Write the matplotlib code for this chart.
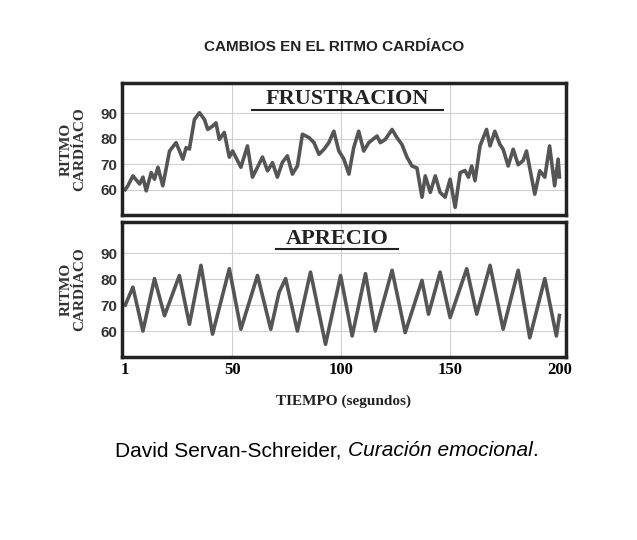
import matplotlib
matplotlib.use("Agg")
import matplotlib.pyplot as plt
from matplotlib.lines import Line2D

frus_t = [1,2.2,4.5,7.6,9.1,10.6,12.9,14.4,16,18.2,21.3,24.3,27.4,28.9,30.4,32.7,35,37.3,38.8,41,42.6,44.1,46.4,48.7,50.2,54,57,59.3,61.6,63.9,66.2,68.5,70.7,73,75.3,77.6,79.9,82.2,85.2,87.5,89.8,92.1,94.3,96.6,98.9,101.2,103.5,105.7,108,110.3,112.6,116.4,117.9,120.2,123.3,125.5,127.8,130.1,132.4,134.7,137,138.5,140.8,143.1,145.3,147.6,149.9,152.2,154.5,156.7,158.3,159.8,161.3,163.6,166.6,168.2,170.4,172.7,174.2,176.5,178.8,181.1,183.4,184.9,188.7,191,193.3,195.5,197.8,199.4,200]
frus_v = [60,61.5,65.4,62.2,64.9,59.5,66.7,64.1,68.8,61.5,75.2,78.5,72,76.5,76,87.6,90.3,87.6,83.7,85,86.3,79.8,82.5,72.8,75.2,68.8,77.2,64.9,68.8,72.8,67.4,70.6,64.9,70.7,73.3,66.1,69.3,81.8,80.5,78.5,73.9,75.9,78.5,83,75.2,72,66.1,76.5,83,75.2,78.5,81.1,78.5,79.8,83.7,80.5,77.8,72.8,69.3,68.5,57,65.4,58.9,65.4,58.9,57,64.1,53,66.7,67.5,64.9,69.3,63.5,77.2,83.7,77.2,83,77.8,75.9,69.3,75.9,69.8,71.5,75.2,58.2,67.4,64.9,77.2,61.5,72,65]

apre_t = [1,4.5,9.1,14.4,19,25.8,30.4,35.7,41,48.7,54,61.6,67.7,71.5,74.5,79.9,85.9,92.8,99.7,105,111.1,115.6,123.3,129.3,137,140,145.3,149.9,157.5,162.1,168.2,174.2,181.1,186.4,193.3,198.6,200]
apre_v = [70,76.9,60,80.2,65.9,81.4,62.6,85.3,58.8,84,60.7,81.4,60.7,74.9,80.2,60,82.7,54.9,81.4,58.1,82.1,60,83.4,59.4,79.5,66.5,82.7,65.2,84,66.5,85.3,60.7,83.4,57.4,80.2,58.1,66]

xticks = [1, 50, 100, 150, 200]
yticks = [60, 70, 80, 90]

fig = plt.figure(figsize=(6.37, 5.4), dpi=100)
serif = "Liberation Serif"
sans = "Liberation Sans"

panels = [
    ([0.1915, 0.6019, 0.697, 0.2444], frus_t, frus_v, "FRUSTRACION", 0.507, 0.88, 0.795, 0.43),
    ([0.1915, 0.3389, 0.697, 0.25], apre_t, apre_v, "APRECIO", 0.485, 0.874, 0.80, 0.275),
]
axes = []
for pos, t, v, title, tx, ty, uy, uw in panels:
    ax = fig.add_axes(pos)
    ax.plot(t, v, color="#555555", lw=2.6, solid_joinstyle="round")
    ax.set_xlim(-0.5, 203)
    ax.set_ylim(50, 102)
    ax.set_xticks([50, 100, 150])
    ax.set_yticks(yticks)
    ax.grid(True, color="#d0d0d0", lw=0.8)
    ax.tick_params(length=0, labelbottom=False)
    for lab in ax.get_yticklabels():
        lab.set_fontfamily(sans); lab.set_fontweight("bold"); lab.set_fontsize(11); lab.set_color("#333333")
    for s in ax.spines.values():
        s.set_linewidth(2.5); s.set_color("#222222")
    ax.text(tx, ty, title, transform=ax.transAxes, ha="center", va="center",
            fontfamily=serif, fontweight="bold", fontsize=16, color="#222222")
    ax.add_line(Line2D([tx - uw/2, tx + uw/2], [uy, uy], transform=ax.transAxes,
                       color="#222222", lw=1.5))
    ax.set_ylabel("RITMO\nCARDÍACO", fontfamily=serif, fontweight="bold", fontsize=11,
                  color="#333333", labelpad=10, linespacing=1.0)
    axes.append(ax)

ax2 = axes[1]
ax2.tick_params(labelbottom=True)
ax2.set_xticks(xticks)
ax2.set_xticklabels([str(x) for x in xticks], fontfamily=serif, fontweight="bold", fontsize=12)
ax2.grid(False)
for x in [50, 100, 150]:
    ax2.axvline(x, color="#d0d0d0", lw=0.8, zorder=0)
for y in yticks:
    ax2.axhline(y, color="#d0d0d0", lw=0.8, zorder=0)
ax2.set_xlabel("TIEMPO (segundos)", fontfamily=serif, fontweight="bold", fontsize=11,
               color="#222222", labelpad=12)

fig.text(0.524, 1 - 47/540, "CAMBIOS EN EL RITMO CARDÍACO", ha="center", va="center",
         fontfamily=sans, fontsize=11, fontweight="bold", color="#222222")

# caption
r = fig.canvas.get_renderer()
parts = [("David Servan-Schreider, ", "normal"), ("Curación emocional", "italic"), (".", "normal")]
ty = 1 - 451/540
texts = []
for s, st in parts:
    tt = fig.text(0, ty, s, ha="left", va="center", fontfamily=sans, fontsize=15, style=st)
    texts.append(tt)
widths = [tt.get_window_extent(r).width / fig.bbox.width for tt in texts]
x = 0.513 - sum(widths) / 2
for tt, w in zip(texts, widths):
    tt.set_x(x); x += w

fig.savefig("out.png", dpi=100)
